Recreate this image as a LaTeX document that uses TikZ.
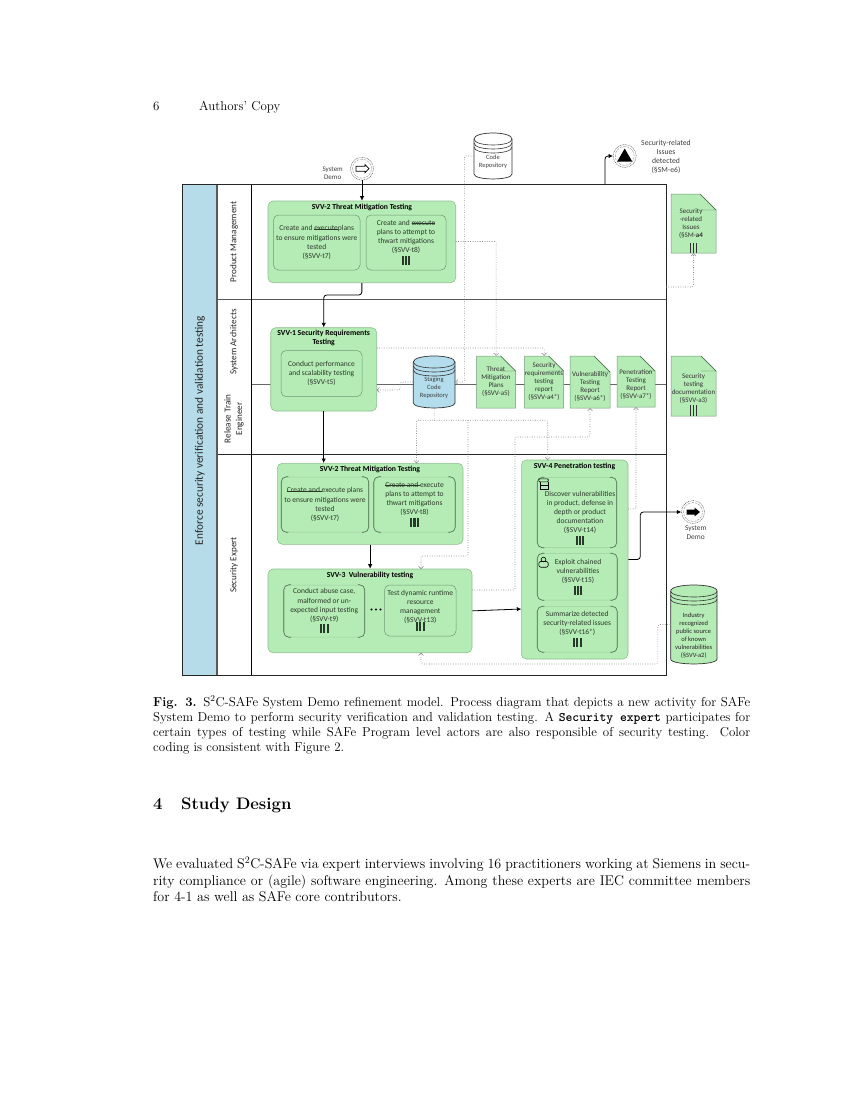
\documentclass[tikz,border=0pt]{standalone}
\usepackage{fontspec}
\usetikzlibrary{arrows.meta,calc}
\newfontfamily\diag{Carlito}
\definecolor{boxgreen}{HTML}{B5EBB5}
\definecolor{boxedge}{HTML}{8FC08F}
\definecolor{innerline}{HTML}{6E9A72}
\definecolor{laneblue}{HTML}{B5DCE8}
\definecolor{stageblue}{HTML}{B3DCEC}
\definecolor{inktext}{HTML}{2A3A2A}
\definecolor{dotgray}{HTML}{8A8A8A}
\newcommand\strk[1]{\leavevmode\setbox0\hbox{#1}\rlap{\rule[.22em]{\wd0}{.6pt}}\box0}
\newcommand\barsmark{\rule{2.1pt}{9pt}\kern1.2pt\rule{2.1pt}{9pt}\kern1.2pt\rule{2.1pt}{9pt}}
\newcommand\dfont[2]{\diag\fontsize{#1}{#2}\selectfont}
\tikzset{
  task/.style={fill=boxgreen,draw=boxedge,line width=.6pt,rounded corners=5pt,inner sep=0pt,align=center,text=inktext,font=\dfont{7.5}{9.1}},
  inner/.style={draw=innerline,line width=.5pt,rounded corners=5pt,inner sep=0pt,align=center,text=inktext,font=\dfont{7.5}{9.1}},
  innerfaint/.style={inner,draw=innerline!35!boxgreen},
  title/.style={align=center,text=black,font=\dfont{7.7}{9.3}\bfseries},
  body/.style={align=center,text=inktext,font=\dfont{7.5}{9.1}},
  small/.style={align=center,text=black!75,font=\dfont{7}{8}},
  lanelabel/.style={rotate=90,align=center,text=black!85,font=\dfont{9.1}{11.5}},
  hole/.style={inner sep=0pt},
  flow/.style={draw=black,line width=.8pt,rounded corners=3pt,-{Latex[length=4.5pt,width=4.5pt]}},
  trace/.style={draw=dotgray,line width=.6pt,dash pattern=on .8pt off 1.6pt,rounded corners=1.5pt,-{Straight Barb[length=2.5pt,width=5pt,line width=.5pt]}},
  page/.style={anchor=base west,inner sep=0pt,font=\fontsize{12.95}{15}\selectfont},
  pagebody/.style={anchor=base west,inner sep=0pt,font=\fontsize{14.07}{16.7}\selectfont},
}
% style, name, x1, y1, x2, y2, text
\newcommand\boxat[7]{%
  \pgfmathsetmacro\bw{#5-#3}\pgfmathsetmacro\bh{#6-#4}%
  \pgfmathsetmacro\bx{(#3+#5)/2}\pgfmathsetmacro\by{(#4+#6)/2}%
  \node[#1,minimum width=\bw pt,minimum height=\bh pt] (#2) at (\bx,\by) {#7};}
\newcommand\sidebracket[1]{%
  \draw[innerline!70!black,line width=.55pt,rounded corners=5pt] ([xshift=7pt]#1.north west) -- (#1.north west) -- (#1.south west) -- ([xshift=7pt]#1.south west);
  \draw[innerline!70!black,line width=.55pt,rounded corners=5pt] ([xshift=-7pt]#1.north east) -- (#1.north east) -- (#1.south east) -- ([xshift=-7pt]#1.south east);}
% name, x1, y1, x2, y2, fold
\newcommand\docat[6]{%
  \boxat{hole}{#1}{#2}{#3}{#4}{#5}{}%
  \pgfmathsetmacro\fx{#4-#6}\pgfmathsetmacro\fy{#3+#6}%
  \fill[boxgreen] (#2,#3) -- (\fx,#3) -- (#4,\fy) -- (#4,#5) -- (#2,#5) -- cycle;
  \draw[boxedge!80!black,line width=.5pt] (#2,#5) -- (#2,#3) -- (\fx,#3) -- (#4,\fy) -- (#4,#5) -- cycle;
  \draw[innerline!70!black,line width=.4pt] (\fx,#3) -- (#4,\fy) -- (\fx,\fy);}
% name, x1, y1, x2, y2, fill
\newcommand\cylat[6]{%
  \boxat{hole}{#1}{#2}{#3}{#4}{#5}{}%
  \pgfmathsetmacro\ya{#3+6}\pgfmathsetmacro\yb{#5-5}\pgfmathsetmacro\yc{#3+10}\pgfmathsetmacro\yd{#3+14}%
  \pgfmathsetmacro\upa{#3-2}\pgfmathsetmacro\dna{#3+14}\pgfmathsetmacro\dnb{#5+1.6}\pgfmathsetmacro\dnc{#3+18}\pgfmathsetmacro\dnd{#3+22}%
  \path[fill=#6,draw=black!80,line width=.7pt] (#2,\ya) .. controls (#2,\upa) and (#4,\upa) .. (#4,\ya) -- (#4,\yb) .. controls (#4,\dnb) and (#2,\dnb) .. (#2,\yb) -- cycle;
  \draw[black!80,line width=.6pt] (#2,\ya) .. controls (#2,\dna) and (#4,\dna) .. (#4,\ya);
  \draw[black!80,line width=.6pt] (#2,\yc) .. controls (#2,\dnc) and (#4,\dnc) .. (#4,\yc);
  \draw[black!80,line width=.6pt] (#2,\yd) .. controls (#2,\dnd) and (#4,\dnd) .. (#4,\yd);}
% name, x, y
\newcommand\eventat[3]{%
  \node[circle,draw=black!65,line width=.4pt,dash pattern=on 1pt off .7pt,minimum size=23pt,inner sep=0pt] (#1) at (#2,#3) {};
  \draw[black!45,line width=.4pt,dash pattern=on 2.5pt off 1pt] (#1.center) circle[radius=9.5pt];}
\begin{document}
\begin{tikzpicture}[x=1pt,y=-1pt]
\useasboundingbox (0,0) rectangle (850,1100);
\fill[white] (0,0) rectangle (850,1100);
% page text
\node[page] (pgnum) at (153,110) {6};
\node[page] (runhead) at (199,110) {Authors' Copy};
% pool
\boxat{hole,fill=laneblue}{band}{183}{184.5}{217}{675}{}
\boxat{hole}{pool}{183}{184.5}{666}{675}{}
\coordinate (colA) at (217,184.5);
\coordinate (colB) at (251,184.5);
\coordinate (laneA) at (217,299);
\coordinate (laneB) at (251,384);
\coordinate (laneC) at (217,454);
\draw[black!65,line width=.7pt] (laneA) -- (laneA -| pool.east);
\draw[black!60,line width=.7pt] (laneB) -- (laneB -| pool.east);
\draw[black!85,line width=.9pt] (laneC) -- (laneC -| pool.east);
\draw[black!65,line width=1.1pt] (colA) -- (colA |- pool.south);
\draw[black,line width=.9pt] (colB) -- (colB |- pool.south);
\draw[black!85,line width=.9pt] (pool.south west) rectangle (pool.north east);
\node[rotate=90,text=black!85,font=\dfont{11.35}{14}] (poolname) at (200,430.5) {Enforce security verification and validation testing};
\node[lanelabel] (lanePM) at (234,242) {Product Management};
\node[lanelabel] (laneSA) at (234,342) {System Architects};
\node[lanelabel] (laneRT) at (234,419) {Release Train\\Engineer};
\node[lanelabel] (laneSE) at (234,565) {Security Expert};
% events
\eventat{sdTop}{362}{168.7}
\draw[black,line width=.7pt,line join=miter] ($(sdTop)+(-6,-2.5)$) -- ++(9,0) -- ++(0,-1.5) -- ++(4,4) -- ++(-4,4) -- ++(0,-1.5) -- ++(-9,0) -- cycle;
\node[small] (sdTopL) at (332.7,173) {System\\Demo};
\eventat{evTri}{624.7}{156}
\fill[black] ($(evTri)+(-7.5,5.5)$) -- ++(7.5,-13) -- ++(7.5,13) -- cycle;
\node[small,font=\dfont{7.7}{9}] (evTriL) at (666,157) {Security-related\\Issues\\detected\\(§SM-e6)};
\eventat{sdRight}{693}{512}
\fill[black] ($(sdRight)+(-6.5,-2.5)$) -- ++(8,0) -- ++(0,-2) -- ++(5.5,4.5) -- ++(-5.5,4.5) -- ++(0,-2) -- ++(-8,0) -- cycle;
\node[small,font=\dfont{7.4}{9}] (sdRightL) at (695.7,533) {System\\Demo};
% repositories
\cylat{repo}{474}{133}{512}{179}{white}
\node[small,font=\dfont{6.5}{8}] (repoL) at (493,162) {Code\\Repository};
\cylat{staging}{413.3}{356}{455}{408}{stageblue}
\node[small,font=\dfont{6.5}{8}] (stagingL) at (434,388) {Staging\\Code\\Repository};
\cylat{indus}{670.7}{585}{717}{664}{boxgreen}
\node[small,font=\dfont{6.5}{8},text=black!85] (indusL) at (693.7,635.5) {Industry\\recognized\\public source\\of known\\vulnerabilities\\(§SVV-a2)};
% SVV-2 product management
\boxat{task}{svvTwoA}{268}{201}{455.7}{282.7}{}
\node[title] (svvTwoAT) at (362,207.5) {SVV-2 Threat Mitigation Testing};
\boxat{inner}{taskSevenA}{273.5}{215}{360}{270}{Create and \strk{execute} plans\\to ensure mitigations were\\tested\\(§SVV-t7)}
\boxat{inner}{taskEightA}{366}{215}{446}{270}{Create and \strk{execute}\\plans to attempt to\\thwart mitigations\\(§SVV-t8)\\[1pt]\barsmark}
% SVV-1
\boxat{task}{svvOne}{270.7}{327.7}{376.7}{411}{}
\node[title] (svvOneT) at (323.7,338) {SVV-1 Security Requirements\\Testing};
\boxat{inner}{taskFive}{281}{350.5}{362}{396.5}{Conduct performance\\and scalability testing\\(§SVV-t5)}
% SVV-2 security expert
\boxat{task}{svvTwoB}{277.3}{463.3}{463}{544.3}{}
\node[title] (svvTwoBT) at (370,469.5) {SVV-2 Threat Mitigation Testing};
\boxat{innerfaint}{taskSevenB}{281.5}{477}{368.5}{532}{\strk{Create and }execute plans\\to ensure mitigations were\\tested\\(§SVV-t7)}
\sidebracket{taskSevenB}
\boxat{innerfaint}{taskEightB}{374}{477}{455}{532}{\strk{Create and }execute\\plans to attempt to\\thwart mitigations\\(§SVV-t8)\\[1pt]\barsmark}
\sidebracket{taskEightB}
% SVV-3
\boxat{task}{svvThree}{268}{569}{472}{652.7}{}
\node[title] (svvThreeT) at (370,575.7) {SVV-3\ \ Vulnerability testing};
\boxat{innerfaint}{taskNine}{284}{585}{364.5}{637}{Conduct abuse case,\\malformed or un-\\expected input testing\\(§SVV-t9)\\[1pt]\barsmark}
\sidebracket{taskNine}
\boxat{inner}{taskThirteen}{384.5}{585}{456}{636}{Test dynamic runtime\\resource\\management\\(§SVV-t13)\\[-3.5pt]\barsmark}
\fill[black] (371.5,609.5) circle[radius=1.2pt] (376,609.5) circle[radius=1.2pt] (380.5,609.5) circle[radius=1.2pt];
% SVV-4
\boxat{task}{svvFour}{521.3}{460}{628}{659}{}
\node[title] (svvFourT) at (574.5,466.7) {SVV-4 Penetration testing};
\boxat{innerfaint}{taskFourteen}{537.5}{477.5}{616.5}{547.5}{}
\sidebracket{taskFourteen}
\node[body] (taskFourteenL) at (580,518) {Discover vulnerabilities\\in product, defense in\\depth or product\\documentation\\(§SVV-t14)\\[1pt]\barsmark};
\boxat{innerfaint}{taskFifteen}{537.5}{553.5}{617}{600}{}
\sidebracket{taskFifteen}
\node[body] (taskFifteenL) at (578,577) {Exploit chained\\vulnerabilities\\(§SVV-t15)\\[1pt]\barsmark};
\boxat{innerfaint}{taskSixteen}{537.5}{606.5}{617}{652}{Summarize detected\\security-related issues\\(§SVV-t16*)\\[1pt]\barsmark}
\sidebracket{taskSixteen}
% task icons
\node[hole,minimum width=9pt,minimum height=10pt] (iconScript) at (543.5,484) {};
\draw[black,line width=.6pt,rounded corners=.8pt] (iconScript.north west) rectangle ([yshift=-3pt]iconScript.north east);
\draw[black,line width=.6pt] ([yshift=-3pt,xshift=1.5pt]iconScript.north west) -- ([xshift=1.5pt]iconScript.south west) -- (iconScript.south east) -- ([yshift=-3pt,xshift=0pt]iconScript.north east);
\draw[black,line width=.5pt] ([yshift=-6pt,xshift=1.5pt]iconScript.north west) -- ([yshift=-6pt]iconScript.north east);
\node[hole,minimum width=9pt,minimum height=10pt] (iconUser) at (543.5,562) {};
\draw[black,line width=.6pt] ($(iconUser)+(0,-2.5)$) circle[radius=2.3pt];
\draw[black,line width=.6pt,rounded corners=2pt] (iconUser.south west) rectangle ($(iconUser.east)+(0,-.5)$);
% documents
\docat{docThreat}{476.7}{356}{515.6}{408}{15}
\node[small,text=black!80] (docThreatL) at (496,381.5) {Threat\\Mitigation\\Plans\\(§SVV-a5)};
\docat{docSec}{524.5}{356}{563.7}{408}{15}
\node[small,text=black!80] (docSecL) at (544,382) {Security\\requirements\\testing\\report\\(§SVV-a4*)};
\docat{docVul}{570}{356}{610}{408}{16}
\node[small,text=black!80] (docVulL) at (590,387) {Vulnerability\\Testing\\Report\\(§SVV-a6*)};
\docat{docPen}{617}{356}{655}{407}{15}
\node[small,text=black!80] (docPenL) at (636,385) {Penetration\\Testing\\Report\\(§SVV-a7*)};
\docat{docTest}{671}{356}{716}{416}{15}
\node[small,text=black!80] (docTestL) at (693.5,389) {Security\\testing\\documentation\\(§SVV-a3)};
\draw[black!80,line width=.5pt] (690.5,405) -- (690.5,416) (693.5,405) -- (693.5,416) (696.5,405) -- (696.5,416);
\docat{docIssues}{671}{194}{716}{253}{16}
\node[small,text=black!80] (docIssuesL) at (691,223.5) {Security\\-related\\Issues\\(§SM-\textbf{a4}};
\draw[black!80,line width=.5pt] (690.5,243) -- (690.5,253) (693.5,243) -- (693.5,253) (696.5,243) -- (696.5,253);
% free ends
\coordinate (fourIn) at (521.3,609);
\coordinate (laneTop) at (605,184.5);
\coordinate (oneOut) at (376.7,348);
\coordinate (twoOut) at (455.7,241.5);
\coordinate (oneIn) at (376.7,390);
\coordinate (twoBIn) at (416.5,463.3);
\coordinate (fourTop) at (547.7,460);
\coordinate (branch) at (468,420);
\coordinate (threeIn) at (421,569);
\coordinate (threeOut) at (472,590);
\coordinate (fourOut) at (628,509);
\coordinate (threeBot) at (421,652.7);
\coordinate (laneRight) at (666,287);
% sequence flows
\draw[flow] (sdTop.south) -- (sdTop.south |- svvTwoA.north);
\draw[flow] (svvTwoA.south) -- ++(0,12) -| (svvOne.north);
\draw[flow] (svvOne.south) -- (svvOne.south |- svvTwoB.north);
\draw[flow] (svvTwoB.south) -- (svvTwoB.south |- svvThree.north);
\draw[flow] (svvThree.east) -- (fourIn);
\draw[flow] (svvFour.east) -- ++(12,0) |- (sdRight.west);
\draw[flow] (laneTop) |- (evTri.west);
% dotted associations
\draw[trace] (repo.west) -- ++(-9.5,0) |- (staging.east);
\draw[trace] (oneOut) -| (docSec.north);
\draw[trace] (twoOut) -| (docThreat.north);
\draw[trace] (staging.west) -- ++(-13,0) |- (oneIn);
\draw[trace] (staging.south) -- ++(0,12) -| (twoBIn);
\draw[trace] (staging.south) ++(0,12) -| (fourTop);
\draw[trace] (branch) -- ++(0,136) -| (threeIn);
\draw[trace] (threeOut) -- ++(43,0) -- ++(0,-153) -| (docVul.south);
\draw[trace] (fourOut) -| (docPen.south);
\draw[trace] (indus.west) -- ++(-12.7,0) -- ++(0,39.5) -| (threeBot);
\draw[trace] (laneRight) -| (docIssues.south);
% caption
\node[page] (capA) at (153,706) {\makebox[597pt][s]{\textbf{Fig. 3.} S\textsuperscript{2}C-SAFe System Demo refinement model. Process diagram that depicts a new activity for SAFe}};
\node[page] (capB) at (153,721.2) {\makebox[597pt][s]{System Demo to perform security verification and validation testing. A {\ttfamily\bfseries Security expert} participates for}};
\node[page] (capC) at (153,736.4) {\makebox[597pt][s]{certain types of testing while SAFe Program level actors are also responsible of security testing. Color}};
\node[page] (capD) at (153,751.6) {coding is consistent with Figure 2.};
\node[anchor=base west,inner sep=0pt,font=\fontsize{16.7}{20}\selectfont\bfseries] (secnum) at (153,809) {4};
\node[anchor=base west,inner sep=0pt,font=\fontsize{16.7}{20}\selectfont\bfseries] (sectitle) at (181,809) {Study Design};
\node[pagebody] (bodyA) at (153,868.5) {\makebox[597pt][s]{We evaluated S\textsuperscript{2}C-SAFe via expert interviews involving 16 practitioners working at Siemens in secu-}};
\node[pagebody] (bodyB) at (153,885.2) {\makebox[597pt][s]{rity compliance or (agile) software engineering. Among these experts are IEC committee members}};
\node[pagebody] (bodyC) at (153,901.9) {for 4-1 as well as SAFe core contributors.};
\end{tikzpicture}
\end{document}
